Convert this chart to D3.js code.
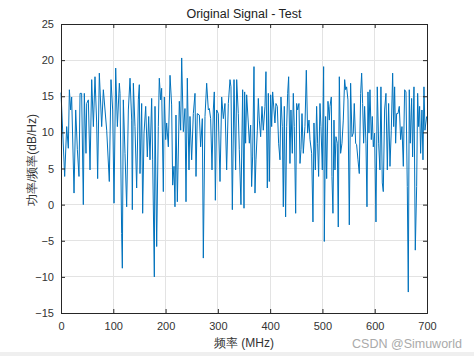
<!DOCTYPE html>
<html><head><meta charset="utf-8">
<script src="https://cdn.jsdelivr.net/npm/d3@7/dist/d3.min.js"></script>
<style>
html,body{margin:0;padding:0;background:#fff;}
svg{display:block;font-family:"Liberation Sans",Arial,Helvetica,sans-serif;}
</style></head>
<body><svg id="c" width="474" height="356"></svg>
<script>
const xTicks = [0,100,200,300,400,500,600,700];
const yTicks = [-15,-10,-5,0,5,10,15,20,25];
const freqMHz = [0,7.0,10.9,14.0,16.0,18.5,20.4,24.9,28.1,31.3,34.4,36.4,39.5,42.7,44.6,47.8,49.1,52.3,55.5,58.7,61.9,65.0,68.2,70.1,73.3,77.8,81.0,87.4,92.4,95.6,98.8,101.4,104.6,107.8,111.6,112.9,116.0,117.3,119.2,122.4,125.6,128.8,132.0,135.2,136.4,138.4,141.5,144.7,147.9,149.8,151.1,154.3,156.2,158.8,162.0,165.1,167.7,170.2,
173.4,175.3,178.5,179.8,183.0,186.1,188.0,190.6,192.5,195.7,197.6,200.2,202.1,205.3,208.5,211.6,213.6,216.1,218.0,219.9,222.5,226.3,228.9,230.8,234.0,237.1,239.1,241.6,244.8,246.7,249.9,253.1,256.3,258.2,260.7,264.6,267.1,270.3,272.2,275.4,278.6,281.8,283.7,286.2,288.8,291.3,293.2,295.2,297.7,300.9,304.1,307.3,310.5,313.6,316.8,320.0,323.2,325.1,327.7,330.9,334.0,336.0,339.1,341.0,344.2,347.4,350.0,
351.2,353.1,355.1,358.2,360.2,362.7,364.6,366.5,369.1,371.0,372.9,375.5,377.4,379.3,381.8,384.4,386.9,390.1,392.0,394.6,396.5,398.4,401.0,402.9,404.8,407.3,409.2,411.1,413.7,416.2,418.8,420.7,423.3,425.2,427.1,429.6,431.6,433.5,435.4,437.9,439.8,442.4,444.3,446.2,448.8,450.7,452.6,455.1,457.1,459.0,460.9,463.4,466.6,469.2,471.7,474.3,476.2,479.4,481.9,483.8,486.4,488.9,490.8,492.7,495.3,497.2,499.8,502.3,503.6,506.1,508.1,510.6,513.2,
514.4,517.0,518.2,520.1,522.1,524.0,525.9,528.4,530.3,532.3,534.8,537.4,539.9,542.5,544.4,546.3,548.8,551.4,553.9,556.5,559.0,560.9,563.5,565.4,568.0,570.5,573.1,575.0,576.9,578.8,580.7,583.3,585.2,587.1,589.0,590.9,593.5,595.4,597.3,599.8,602.4,604.9,607.5,610.0,611.9,614.5,616.4,618.9,621.5,624.1,626.6,629.2,631.7,634.3,636.2,638.1,640.0,641.9,644.5,647.0,649.6,652.1,654.7,657.2,659.8,662.3,664.2,666.1,668.0,670.6,672.5,675.1,677.6,680.2,682.1,684.0,685.9,687.8,690.3,692.3,694.2,696.1,699.3];
const powerDb = [15.5,3.9,10.8,7.8,15.9,13.1,14.9,1.6,13.1,7.6,3.9,15.4,15.4,0.0,15.4,7.1,14.0,14.5,4.8,17.3,10.8,17.7,11.3,3.6,18.2,10.8,15.9,10.3,3.2,17.3,13.1,0.2,18.9,10.8,16.8,15.4,-4.0,-8.8,14.5,7.1,-0.3,13.1,17.5,11.7,-0.7,16.8,10.8,2.3,14.5,16.6,4.3,14.0,-1.2,9.9,13.6,6.6,12.2,6.2,
14.7,6.2,-10.0,13.6,-5.8,10.8,17.5,14.5,16.1,1.8,14.9,9.0,11.3,8.0,17.9,13.8,2.7,5.3,-0.3,12.4,0.4,14.3,10.3,20.3,10.1,13.3,0.4,17.5,4.8,12.2,6.2,12.6,15.4,3.9,12.6,12.4,8.0,11.9,-7.4,12.2,16.8,13.1,13.3,11.9,4.8,13.1,15.6,0.6,13.1,12.6,3.2,14.9,11.9,14.0,4.8,14.0,17.3,16.3,-0.7,17.3,4.8,17.3,12.6,7.6,0.0,15.9,-0.5,
15.6,8.5,15.2,11.3,8.5,11.0,2.5,6.6,19.1,1.6,6.2,10.3,14.7,11.7,9.4,13.6,10.3,13.6,18.4,2.3,15.4,3.2,15.2,10.8,15.6,13.1,11.3,14.0,13.6,8.5,6.2,14.9,10.8,-0.3,13.6,-1.7,10.8,15.4,17.7,5.7,13.1,7.1,15.4,10.8,-1.2,14.0,13.1,14.0,5.7,7.6,12.6,7.1,10.8,18.6,9.9,11.7,9.0,7.1,-2.4,11.3,4.8,13.6,8.5,3.9,14.0,10.8,4.8,19.1,-5.1,12.2,3.6,14.3,11.7,
13.6,14.9,3.9,-1.2,11.7,4.8,9.4,8.5,-3.1,17.7,7.1,8.5,11.7,17.3,15.9,16.3,14.5,-2.8,16.8,9.4,9.9,14.0,8.5,8.3,6.2,4.3,15.4,18.2,14.0,8.5,13.6,8.5,-0.3,15.6,9.9,15.9,9.0,12.2,8.0,9.9,-2.4,16.3,8.5,4.8,16.3,3.0,1.8,13.1,15.4,4.8,14.0,5.3,10.3,18.2,10.8,16.3,8.5,12.6,12.6,13.6,9.0,10.8,5.3,15.9,15.6,2.5,-12.1,15.9,8.5,14.7,6.6,16.3,-6.3,2.5,15.4,10.8,13.6,7.1,13.1,6.2,16.3,10.3,12.2];

const svg = d3.select('#c');
const L = 61, R = 427, T = 24, B = 313;
const x = d3.scaleLinear().domain([0,700]).range([L,R]);
const y = d3.scaleLinear().domain([-15,25]).range([B,T]);
const axisCol = '#262626', gridCol = '#e3e3e3', txtCol = '#333';

svg.append('rect').attr('x',0).attr('y',0).attr('width',474).attr('height',356).attr('fill','#fff');
svg.append('rect').attr('x',0).attr('y',352).attr('width',474).attr('height',4).attr('fill','#efefef');

// grid
svg.append('g').selectAll('line').data(xTicks.slice(1,-1)).join('line')
  .attr('x1',d=>x(d)).attr('x2',d=>x(d)).attr('y1',T).attr('y2',B)
  .attr('stroke',gridCol).attr('stroke-width',1).attr('shape-rendering','crispEdges');
svg.append('g').selectAll('line').data(yTicks.slice(1,-1)).join('line')
  .attr('y1',d=>y(d)).attr('y2',d=>y(d)).attr('x1',L).attr('x2',R)
  .attr('stroke',gridCol).attr('stroke-width',1).attr('shape-rendering','crispEdges');

// signal
const line = d3.line().x((d,i)=>x(freqMHz[i])).y(d=>y(d));
svg.append('path').datum(powerDb).attr('d',line)
  .attr('fill','none').attr('stroke','#0072BD').attr('stroke-width',1).attr('stroke-linejoin','round');

// axes
const xAx = d3.axisBottom(x).tickValues(xTicks).tickSize(-4).tickPadding(9).tickFormat(d3.format('d'));
const yAx = d3.axisLeft(y).tickValues(yTicks).tickSize(-4).tickPadding(7).tickFormat(d3.format('d'));
const gx = svg.append('g').attr('transform',`translate(0,${B})`).call(xAx);
const gy = svg.append('g').attr('transform',`translate(${L},0)`).call(yAx);
svg.append('g').attr('transform',`translate(0,${T})`).call(d3.axisTop(x).tickValues(xTicks).tickSize(-4).tickFormat(''));
svg.append('g').attr('transform',`translate(${R},0)`).call(d3.axisRight(y).tickValues(yTicks).tickSize(-4).tickFormat(''));
svg.selectAll('.domain').attr('stroke',axisCol);
svg.selectAll('.tick line').attr('stroke',axisCol);
svg.selectAll('.tick text').attr('fill',txtCol).style('font-size','11px').style('font-family','"Liberation Sans",Arial,sans-serif');

// titles
svg.append('text').attr('x',244).attr('y',18).attr('text-anchor','middle')
  .attr('fill','#222').style('font-size','12.5px').text('Original Signal - Test');
svg.append('text').attr('x',244).attr('y',347).attr('text-anchor','middle')
  .attr('fill',txtCol).style('font-size','12px').text('频率 (MHz)');
svg.append('text').attr('transform','translate(36,160) rotate(-90)').attr('text-anchor','middle')
  .attr('fill',txtCol).style('font-size','12px').text('功率/频率(dB/Hz)');
svg.append('text').attr('x',462).attr('y',348).attr('text-anchor','end')
  .attr('fill','#aaa').style('font-size','12.5px').text('CSDN @Simuworld');
</script></body></html>
